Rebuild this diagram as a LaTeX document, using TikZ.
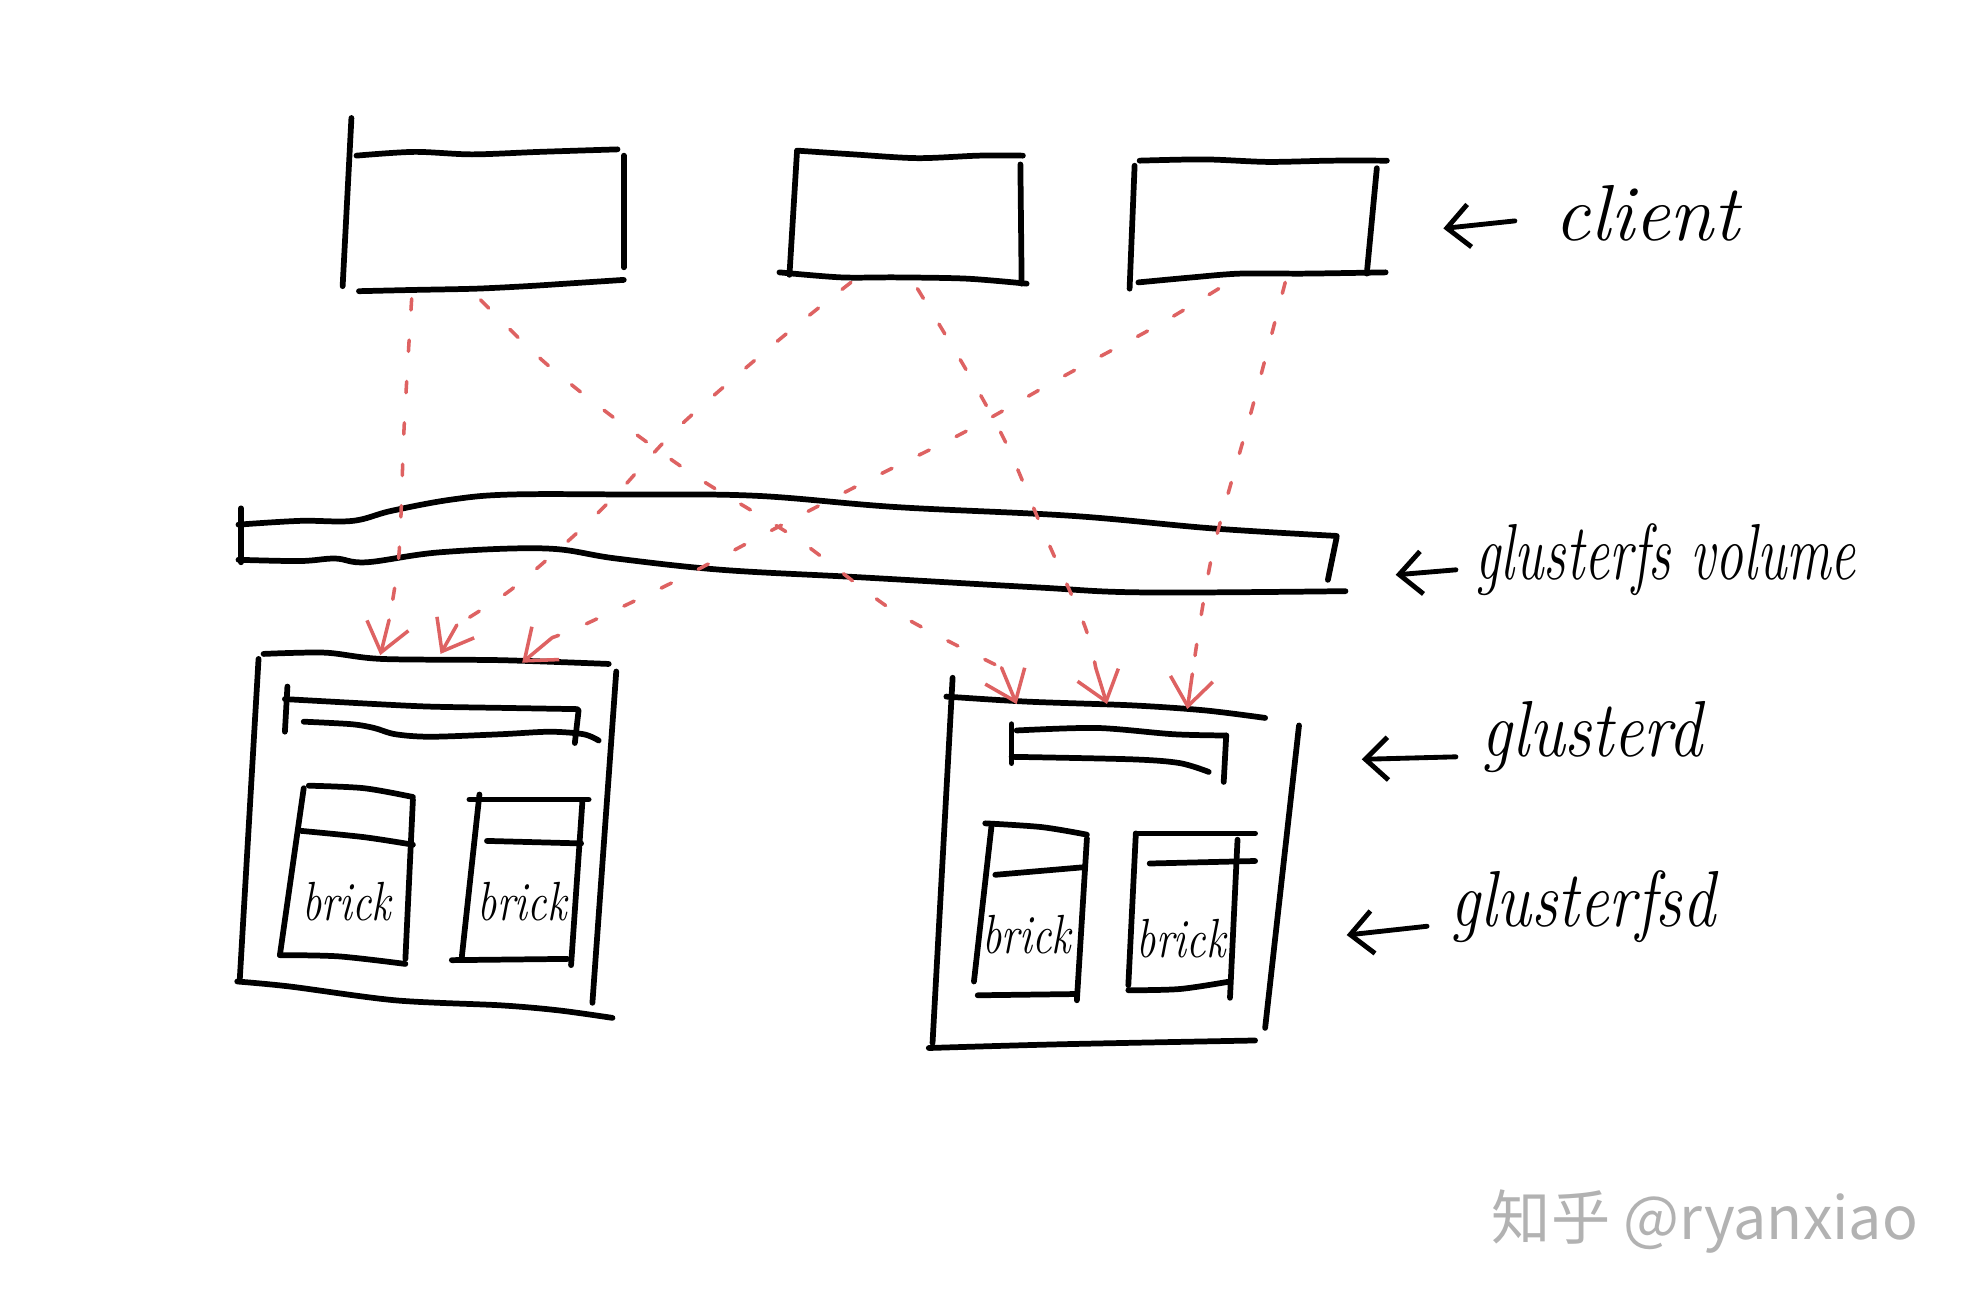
\documentclass[tikz,border=0pt]{standalone}
\usepackage{fontspec}
\usetikzlibrary{arrows.meta}
\newfontfamily\cjkfont{Noto Sans CJK SC}
\definecolor{sketchred}{RGB}{222,98,98}
\definecolor{wmgrey}{RGB}{178,178,178}
\begin{document}
\begin{tikzpicture}[x=0.01cm,y=-0.01cm,
  ink/.style={line width=1.3pt, line cap=round, line join=round},
  reddash/.style={draw=sketchred, line width=0.8pt, dash pattern=on 0.09cm off 0.24cm, line cap=round},
  redtip/.style={draw=sketchred, line width=0.8pt, line cap=round, -{Straight Barb[length=2.2mm,width=3.4mm]}},
  lblarrow/.style={line width=1.1pt, line cap=round, -{Straight Barb[length=1.8mm,width=3.4mm]}},
  hwlabel/.style={font=\fontsize{18}{20}\selectfont\itshape, anchor=base west, inner sep=0pt},
  bricktext/.style={font=\fontsize{12.5}{14}\selectfont\itshape, inner sep=0pt},
]
\path[fill=white] (0,0) rectangle (1568,1045);
\useasboundingbox (0,0) rectangle (1568,1045);

% ---------------- clients ----------------
% client 1
\draw[ink] (280,94) -- (273,228);
\draw[ink] plot[smooth] coordinates {(284,124) (330,121) (376,123) (430,121) (492,119)};
\draw[ink] (497,124) -- (497,213);
\draw[ink] plot[smooth] coordinates {(286,232) (330,231) (379,230) (420,228) (451,226) (497,223)};
% client 2
\draw[ink] plot[smooth] coordinates {(635,120) (680,123) (731,126) (780,124) (815,124)};
\draw[ink] (635,121) -- (629,219);
\draw[ink] (813,131) -- (814,226);
\draw[ink] plot[smooth] coordinates {(621,217) (670,221) (714,221) (770,222) (818,226)};
% client 3
\draw[ink] plot[smooth] coordinates {(908,128) (960,127) (1010,129) (1060,128) (1105,128)};
\draw[ink] (904,132) -- (900,230);
\draw[ink] (1097,134) -- (1089,218);
\draw[ink] plot[smooth] coordinates {(907,225) (950,221) (988,218) (1040,218) (1104,217)};

% ---------------- glusterfs volume bar ----------------
\draw[ink] plot[smooth, tension=0.6] coordinates {(190,418) (239,415) (281,415) (312,407) (360,398) (407,394) (500,394) (602,395) (714,404) (854,411) (966,421) (1065,427)};
\draw[ink] plot[smooth, tension=0.6] coordinates {(190,446) (239,447) (267,445) (292,448) (351,440) (435,437) (491,445) (575,454) (686,460) (826,468) (910,472) (1072,471)};
\draw[ink] (192,405) -- (192,448);
\draw[ink] (1065,428) -- (1058,462);

% ---------------- left server ----------------
\draw[ink] plot[smooth] coordinates {(210,521) (259,520) (304,525) (399,526) (485,529)};
\draw[ink] (206,525) -- (191,781);
\draw[ink] (491,535) -- (472,799);
\draw[ink] plot[smooth] coordinates {(189,782) (231,786) (315,797) (399,801) (445,805) (488,811)};
% glusterd bar
\draw[ink] (229,547) -- (227,583);
\draw[ink] plot[smooth] coordinates {(227,557) (300,561) (343,563) (400,564) (460,565)};
\draw[ink] (461,566) -- (458,592);
\draw[ink] plot[smooth] coordinates {(242,575) (280,577) (298,580) (315,585) (343,587) (399,585) (438,583) (465,585) (477,590)};
% brick L1
\draw[ink] plot[smooth] coordinates {(246,626) (290,628) (329,635)};
\draw[ink] (242,628) -- (223,761);
\draw[ink] (329,637) -- (323,764);
\draw[ink] plot[smooth] coordinates {(240,662) (290,667) (329,673)};
\draw[ink] plot[smooth] coordinates {(223,761) (270,762) (323,768)};
\node[bricktext] (bl1) at (276,718) {\scalebox{0.78}[1]{brick}};
% brick L2
\draw[ink] (374,637) -- (469,637);
\draw[ink] (382,633) -- (368,762);
\draw[ink] (464,639) -- (455,769);
\draw[ink] (388,670) -- (463,672);
\draw[ink] (360,765) -- (452,764);
\node[bricktext] (bl2) at (416,718) {\scalebox{0.78}[1]{brick}};

% ---------------- right server ----------------
\draw[ink] plot[smooth] coordinates {(754,555) (818,559) (902,562) (960,566) (1008,572)};
\draw[ink] (759,540) -- (743,831);
\draw[ink] (1035,578) -- (1008,819);
\draw[ink] plot[smooth] coordinates {(740,835) (846,832) (1000,829)};
% glusterd bar
\draw[ink] (806,577) -- (806,608);
\draw[ink] plot[smooth] coordinates {(810,582) (874,580) (935,585) (977,586)};
\draw[ink] (977,586) -- (975,623);
\draw[ink] plot[smooth] coordinates {(806,603) (902,605) (940,608) (963,615)};
% brick R1
\draw[ink] plot[smooth] coordinates {(785,656) (830,659) (866,665)};
\draw[ink] (790,658) -- (776,782);
\draw[ink] (866,668) -- (858,797);
\draw[ink] (793,697) -- (863,691);
\draw[ink] (779,793) -- (857,792);
\node[bricktext] (br1) at (818,745) {\scalebox{0.78}[1]{brick}};
% brick R2
\draw[ink] (905,664) -- (1000,664);
\draw[ink] (905,664) -- (899,785);
\draw[ink] (986,669) -- (980,795);
\draw[ink] (916,688) -- (1000,686);
\draw[ink] plot[smooth] coordinates {(899,789) (940,788) (980,782)};
\node[bricktext] (br2) at (941,748) {\scalebox{0.78}[1]{brick}};

% ---------------- red connections ----------------
\coordinate (c1a) at (328,238);
\coordinate (c1b) at (383,239);
\coordinate (c2a) at (678,225);
\coordinate (c2b) at (731,230);
\coordinate (c3a) at (971,230);
\coordinate (c3b) at (1024,225);
\coordinate (l1) at (303,522);   \coordinate (l1s) at (310,494);
\coordinate (l2) at (351,521);   \coordinate (l2s) at (364,498);
\coordinate (l3) at (416,528);   \coordinate (l3s) at (440,508);
\coordinate (r1) at (810,561);   \coordinate (r1s) at (798,532);
\coordinate (r2) at (882,561);   \coordinate (r2s) at (873,532);
\coordinate (r3) at (946,565);   \coordinate (r3s) at (950,537);

% client 1
\draw[reddash] plot[smooth, tension=0.5] coordinates {(c1a) (322,340) (318,440) (l1s)};
\draw[redtip] (l1s) -- (l1);
\draw[reddash] plot[smooth, tension=0.5] coordinates {(c1b) (432,287) (488,332) (555,380) (636,430) (714,488) (r1s)};
\draw[redtip] (r1s) -- (r1);
% client 2
\draw[reddash] plot[smooth, tension=0.5] coordinates {(c2a) (618,273) (541,340) (492,393) (456,428) (407,470) (l2s)};
\draw[redtip] (l2s) -- (l2);
\draw[reddash] plot[smooth, tension=0.5] coordinates {(c2b) (770,295) (802,354) (832,425) (864,498) (r2s)};
\draw[redtip] (r2s) -- (r2);
% client 3
\draw[reddash] plot[smooth, tension=0.5] coordinates {(c3a) (921,260) (847,300) (769,344) (695,381) (612,424) (540,462) (465,498) (l3s)};
\draw[redtip] (l3s) -- (l3);
\draw[reddash] plot[smooth, tension=0.5] coordinates {(c3b) (998,324) (966,441) (r3s)};
\draw[redtip] (r3s) -- (r3);

% ---------------- labels ----------------
\node[hwlabel] (tclient) at (1238,192) {client};
\coordinate (aclient1) at (1207,176); \coordinate (aclient2) at (1150,182);
\draw[lblarrow] (aclient1) -- (aclient2);

\node[hwlabel] (tvolume) at (1175,462) {\scalebox{0.7}[1]{glusterfs volume}};
\coordinate (avol1) at (1160,454); \coordinate (avol2) at (1112,458);
\draw[lblarrow] (avol1) -- (avol2);

\node[hwlabel] (tglusterd) at (1180,603) {\scalebox{0.85}[1]{glusterd}};
\coordinate (agd1) at (1160,603); \coordinate (agd2) at (1085,605);
\draw[lblarrow] (agd1) -- (agd2);

\node[hwlabel] (tglusterfsd) at (1155,738) {\scalebox{0.83}[1]{glusterfsd}};
\coordinate (agfsd1) at (1137,738); \coordinate (agfsd2) at (1073,745);
\draw[lblarrow] (agfsd1) -- (agfsd2);

% ---------------- watermark ----------------
\node[anchor=west, inner sep=0pt, text=wmgrey, font=\cjkfont\fontsize{13.4}{15}\selectfont] (wm) at (1188,973) {知乎 @ryanxiao};
\end{tikzpicture}
\end{document}
